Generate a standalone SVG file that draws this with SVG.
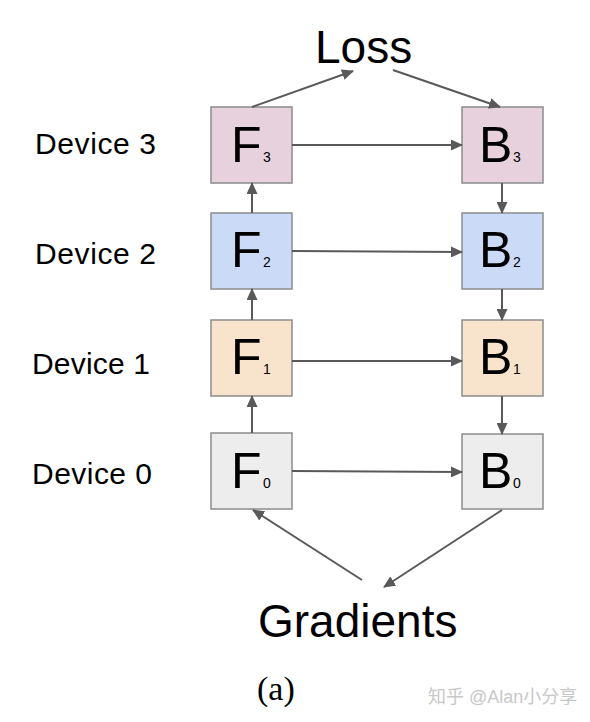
<svg xmlns="http://www.w3.org/2000/svg" width="590" height="722" viewBox="0 0 590 722">
<defs>
<marker id="ah" markerWidth="12" markerHeight="11" refX="11" refY="5.5" orient="auto" markerUnits="userSpaceOnUse">
<path d="M0,0 L12,5.5 L0,11 Z" fill="#595959"/>
</marker>
<style>
.box{stroke:#8c8c8c;stroke-width:1.5}
.c3{fill:#e6d1dd}
.c2{fill:#cbdaf7}
.c1{fill:#f8e4cc}
.c0{fill:#ededed}
.big{font-family:"Liberation Sans",Arial,sans-serif;font-size:50px;fill:#000}
.sub{font-family:"Liberation Sans",Arial,sans-serif;font-size:14px;fill:#000}
.lbl{font-family:"Liberation Sans",Arial,sans-serif;font-size:30px;fill:#000}
.title{font-family:"Liberation Sans",Arial,sans-serif;font-size:46px;fill:#000}
.conn line{stroke:#595959;stroke-width:2;marker-end:url(#ah)}
</style>
</defs>
<rect width="590" height="722" fill="#fff"/>
<text class="title" x="315" y="63">Loss</text>
<text class="title" x="258" y="637">Gradients</text>
<text class="lbl" x="35" y="154" textLength="121">Device 3</text>
<text class="lbl" x="35" y="264" textLength="121">Device 2</text>
<text class="lbl" x="32" y="374" textLength="118">Device 1</text>
<text class="lbl" x="32" y="484" textLength="120">Device 0</text>
<g id="F3"><rect class="box c3" x="211" y="107" width="81" height="76"/><text class="big" x="231" y="162">F</text><text class="sub" x="263" y="162">3</text></g>
<g id="F2"><rect class="box c2" x="211" y="213" width="81" height="76"/><text class="big" x="231" y="267">F</text><text class="sub" x="263" y="267">2</text></g>
<g id="F1"><rect class="box c1" x="211" y="320" width="81" height="76"/><text class="big" x="231" y="374">F</text><text class="sub" x="263" y="374">1</text></g>
<g id="F0"><rect class="box c0" x="211" y="433" width="81" height="76"/><text class="big" x="231" y="488">F</text><text class="sub" x="263" y="488">0</text></g>
<g id="B3"><rect class="box c3" x="462" y="107" width="81" height="76"/><text class="big" x="479" y="162">B</text><text class="sub" x="513" y="162">3</text></g>
<g id="B2"><rect class="box c2" x="462" y="213" width="81" height="76"/><text class="big" x="479" y="267">B</text><text class="sub" x="513" y="267">2</text></g>
<g id="B1"><rect class="box c1" x="462" y="320" width="81" height="76"/><text class="big" x="479" y="374">B</text><text class="sub" x="513" y="374">1</text></g>
<g id="B0"><rect class="box c0" x="462" y="434" width="81" height="75"/><text class="big" x="479" y="488">B</text><text class="sub" x="513" y="488">0</text></g>
<g class="conn">
<line x1="252" y1="107" x2="353" y2="71"/>
<line x1="393" y1="70" x2="500" y2="107"/>
<line x1="292" y1="145" x2="462" y2="145"/>
<line x1="292" y1="251" x2="462" y2="252"/>
<line x1="292" y1="361" x2="462" y2="361"/>
<line x1="292" y1="471" x2="462" y2="472"/>
<line x1="252" y1="213" x2="252" y2="183"/>
<line x1="252" y1="320" x2="252" y2="289"/>
<line x1="252" y1="433" x2="252" y2="396"/>
<line x1="502" y1="183" x2="502" y2="213"/>
<line x1="502" y1="289" x2="502" y2="320"/>
<line x1="502" y1="396" x2="502" y2="434"/>
<line x1="362" y1="580" x2="253" y2="510"/>
<line x1="502" y1="510" x2="384" y2="587"/>
</g>
<text x="257" y="700" font-family="'Liberation Serif','Times New Roman',serif" font-size="34" fill="#000">(a)</text>
<text x="428" y="703" font-family="'Liberation Sans','Noto Sans CJK SC',sans-serif" font-size="18" fill="#c8c8c8">知乎 @Alan小分享</text>
</svg>
